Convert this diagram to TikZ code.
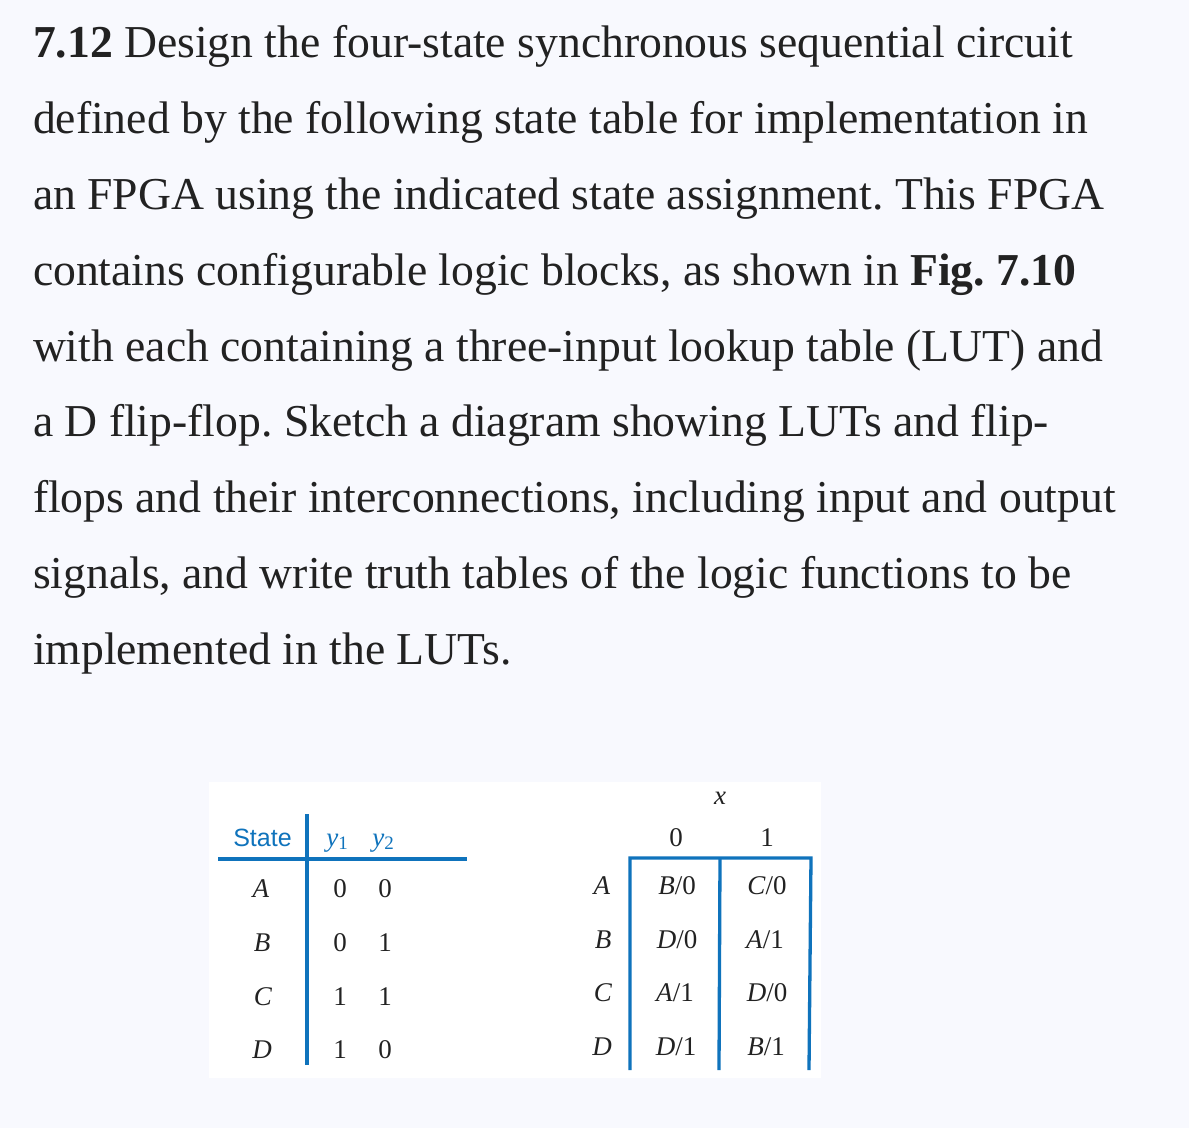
\documentclass[tikz,border=0pt]{standalone}
\usepackage{fontspec}
\setmainfont{Liberation Serif}
\newfontfamily\tsans{Liberation Sans}
\definecolor{pagebg}{HTML}{F8F9FE}
\definecolor{rule}{HTML}{0F73BC}
\definecolor{ink}{HTML}{222222}
\newcommand{\bodysize}{\fontsize{45.65}{48}\selectfont\frenchspacing}
\tikzset{
  bodyline/.style={anchor=base west,inner sep=0pt,outer sep=0pt,font=\bodysize,text=ink},
  cell/.style={anchor=base,inner sep=0pt,outer sep=0pt,font=\fontsize{27}{27}\selectfont,text=ink},
  headcell/.style={cell,text=rule},
  tablerule/.style={draw=rule,line width=3.3pt}
}
\begin{document}
\begin{tikzpicture}[x=1pt,y=-1pt]
\useasboundingbox (0,0) rectangle (1189,1128);
\fill[pagebg] (0,0) rectangle (1189,1128);
\fill[white] (209,782) rectangle (821,1078);
\node[bodyline] (l1) at (33,57) {\textbf{7.12} Design the four-state synchronous sequential circuit};
\node[bodyline] (l2) at (33,133) {defined by the following state table for implementation in};
\node[bodyline] (l3) at (33,209) {an FPGA using the indicated state assignment. This FPGA};
\node[bodyline] (l4) at (33,285) {contains configurable logic blocks, as shown in \textbf{Fig. 7.10}};
\node[bodyline] (l5) at (33,361) {with each containing a three-input lookup table (LUT) and};
\node[bodyline] (l6) at (33,436) {a D flip-flop. Sketch a diagram showing LUTs and flip-};
\node[bodyline] (l7) at (33,512) {flops and their interconnections, including input and output};
\node[bodyline] (l8) at (33,588) {signals, and write truth tables of the logic functions to be};
\node[bodyline] (l9) at (33,664) {implemented in the LUTs.};
% left table
\draw[tablerule] (307,814) -- (307,1065);
\draw[tablerule] (218,859) -- (467,859);
\node[headcell,font=\tsans\fontsize{25}{25}\selectfont] (st) at (262.5,846) {State};
\node[headcell] (hy1) at (337,846) {\textit{y}\raisebox{-3pt}{\fontsize{19}{19}\selectfont 1}};
\node[headcell] (hy2) at (383,846) {\textit{y}\raisebox{-3pt}{\fontsize{19}{19}\selectfont 2}};
\node[cell] (sa) at (261,897) {\textit{A}};
\node[cell] (sb) at (262,951) {\textit{B}};
\node[cell] (sc) at (263,1005) {\textit{C}};
\node[cell] (sd) at (262,1058) {\textit{D}};
\node[cell] (a1) at (340,897) {0};
\node[cell] (a2) at (385,897) {0};
\node[cell] (b1) at (340,951) {0};
\node[cell] (b2) at (385,951) {1};
\node[cell] (c1) at (340,1005) {1};
\node[cell] (c2) at (385,1005) {1};
\node[cell] (d1) at (340,1058) {1};
\node[cell] (d2) at (385,1058) {0};
% right table
\draw[tablerule] (630,1070) -- (630,858) -- (811,858) -- (809,1070);
\draw[tablerule] (720,858) -- (719,1070);
\node[cell] (x) at (720,804) {\textit{x}};
\node[cell] (h0) at (676,846) {0};
\node[cell] (h1) at (767,846) {1};
\node[cell] (ra) at (602,894) {\textit{A}};
\node[cell] (rb) at (603,948) {\textit{B}};
\node[cell] (rc) at (603,1001) {\textit{C}};
\node[cell] (rd) at (602,1055) {\textit{D}};
\node[cell] (p1) at (677,894) {\textit{B}/0};
\node[cell] (q1) at (767,894) {\textit{C}/0};
\node[cell] (p2) at (677,948) {\textit{D}/0};
\node[cell] (q2) at (765,948) {\textit{A}/1};
\node[cell] (p3) at (675,1001) {\textit{A}/1};
\node[cell] (q3) at (767,1001) {\textit{D}/0};
\node[cell] (p4) at (676,1055) {\textit{D}/1};
\node[cell] (q4) at (766,1055) {\textit{B}/1};
\end{tikzpicture}
\end{document}
